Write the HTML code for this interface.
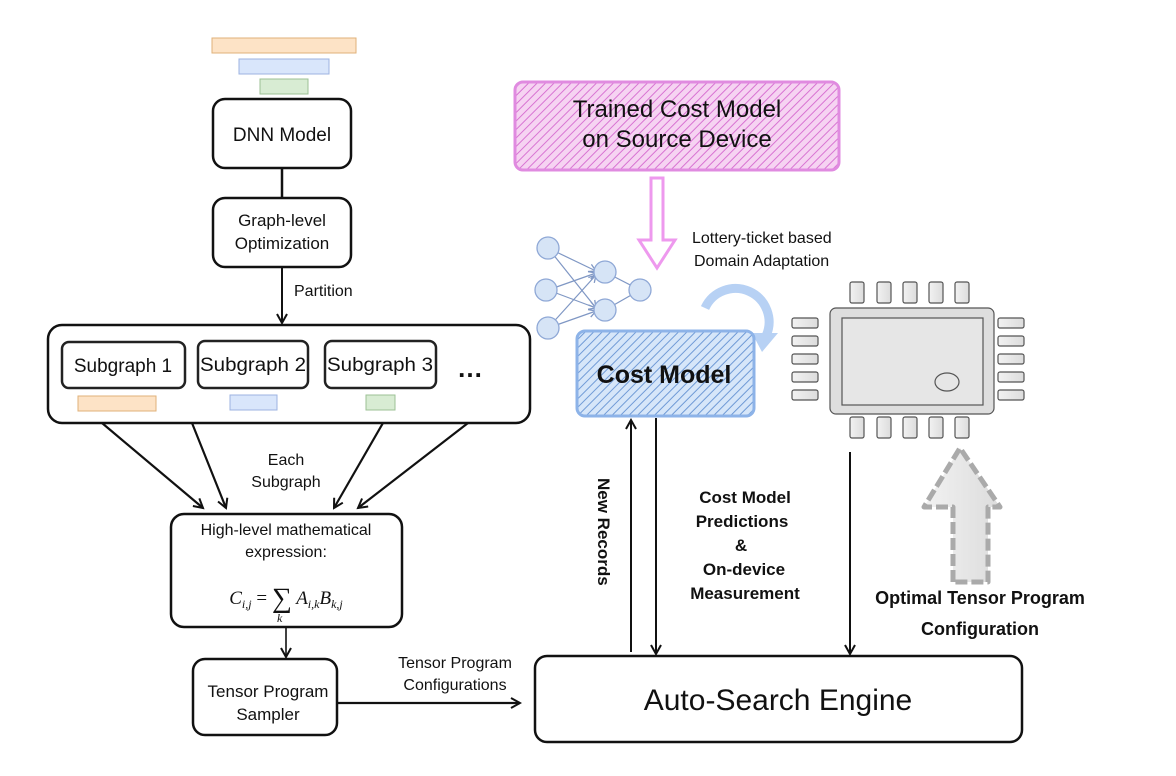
<!DOCTYPE html>
<html><head><meta charset="utf-8"><style>
html,body{margin:0;padding:0;background:#fff;}
svg{display:block;}
text{font-family:"Liberation Sans",sans-serif;fill:#111;}
text.m{font-family:"Liberation Serif",serif;}
</style></head><body>
<svg width="1176" height="776" viewBox="0 0 1176 776" xmlns="http://www.w3.org/2000/svg">
<defs>
<pattern id="hp" width="6" height="6" patternUnits="userSpaceOnUse" patternTransform="rotate(45)">
<rect width="6" height="6" fill="#f6d3f2"/><line x1="0" y1="0" x2="0" y2="6" stroke="#d873d2" stroke-width="2"/></pattern>
<pattern id="hb" width="6" height="6" patternUnits="userSpaceOnUse" patternTransform="rotate(45)">
<rect width="6" height="6" fill="#d6e6f9"/><line x1="0" y1="0" x2="0" y2="6" stroke="#6f9ad6" stroke-width="2"/></pattern>
<marker id="ar" markerWidth="12" markerHeight="12" refX="10" refY="6" orient="auto" markerUnits="userSpaceOnUse">
<path d="M1,1 L10,6 L1,11" fill="none" stroke="#111" stroke-width="2"/></marker>
<marker id="nar" markerWidth="10" markerHeight="10" refX="8" refY="5" orient="auto" markerUnits="userSpaceOnUse">
<path d="M1,1 L8,5 L1,9" fill="none" stroke="#7f97c4" stroke-width="1.3"/></marker>
<linearGradient id="gg" x1="0" y1="0" x2="1" y2="0"><stop offset="0" stop-color="#f2f2f2"/><stop offset="1" stop-color="#dcdcdc"/></linearGradient>
</defs>

<rect x="212" y="38" width="144" height="15" fill="#fde3c6" stroke="#e0b27a"/>
<rect x="239" y="59" width="90" height="15" fill="#d9e6fb" stroke="#9db3e0"/>
<rect x="260" y="79" width="48" height="15" fill="#d8ecd3" stroke="#9cc196"/>

<rect x="213" y="99" width="138" height="69" rx="12" fill="#fff" stroke="#111" stroke-width="2.5"/>
<text x="282" y="141" font-size="19" text-anchor="middle">DNN Model</text>
<line x1="282" y1="168" x2="282" y2="198" stroke="#111" stroke-width="2.5"/>
<rect x="213" y="198" width="138" height="69" rx="12" fill="#fff" stroke="#111" stroke-width="2.5"/>
<text x="282" y="226" font-size="17" text-anchor="middle">Graph-level</text>
<text x="282" y="249" font-size="17" text-anchor="middle">Optimization</text>
<line x1="282" y1="267" x2="282" y2="323" stroke="#111" stroke-width="2" marker-end="url(#ar)"/>
<text x="294" y="296" font-size="16">Partition</text>

<rect x="48" y="325" width="482" height="98" rx="14" fill="#fff" stroke="#111" stroke-width="2.5"/>
<rect x="62" y="342" width="123" height="46" rx="7" fill="#fff" stroke="#222" stroke-width="2.5"/>
<text x="123" y="372" font-size="19" text-anchor="middle">Subgraph 1</text>
<rect x="198" y="341" width="110" height="47" rx="7" fill="#fff" stroke="#222" stroke-width="2.5"/>
<text x="253" y="371" font-size="19" text-anchor="middle" textLength="106" lengthAdjust="spacingAndGlyphs">Subgraph 2</text>
<rect x="325" y="341" width="111" height="47" rx="7" fill="#fff" stroke="#222" stroke-width="2.5"/>
<text x="380" y="371" font-size="19" text-anchor="middle" textLength="106" lengthAdjust="spacingAndGlyphs">Subgraph 3</text>
<text x="470" y="377" font-size="26" text-anchor="middle" font-weight="bold">…</text>
<rect x="78" y="396" width="78" height="15" fill="#fde3c6" stroke="#e0b27a"/>
<rect x="230" y="395" width="47" height="15" fill="#d9e6fb" stroke="#9db3e0"/>
<rect x="366" y="395" width="29" height="15" fill="#d8ecd3" stroke="#9cc196"/>

<line x1="102" y1="423" x2="203" y2="508" stroke="#111" stroke-width="2.2" marker-end="url(#ar)"/>
<line x1="192" y1="423" x2="226" y2="508" stroke="#111" stroke-width="2.2" marker-end="url(#ar)"/>
<line x1="383" y1="423" x2="334" y2="508" stroke="#111" stroke-width="2.2" marker-end="url(#ar)"/>
<line x1="468" y1="423" x2="358" y2="508" stroke="#111" stroke-width="2.2" marker-end="url(#ar)"/>
<text x="286" y="465" font-size="16" text-anchor="middle">Each</text>
<text x="286" y="487" font-size="16" text-anchor="middle">Subgraph</text>

<rect x="171" y="514" width="231" height="113" rx="13" fill="#fff" stroke="#111" stroke-width="2.5"/>
<text x="286" y="535" font-size="16" text-anchor="middle">High-level mathematical</text>
<text x="286" y="557" font-size="16" text-anchor="middle">expression:</text>
<text class="m" x="286" y="604" font-size="19" text-anchor="middle" font-style="italic">C<tspan font-size="12" dy="4">i,j</tspan><tspan dy="-4" font-style="normal"> = </tspan><tspan font-style="normal" font-size="28" dy="3">∑</tspan><tspan dy="-3"> A</tspan><tspan font-size="12" dy="4">i,k</tspan><tspan dy="-4">B</tspan><tspan font-size="12" dy="4">k,j</tspan></text>
<text class="m" x="277" y="622" font-size="12" font-style="italic">k</text>
<line x1="286" y1="628" x2="286" y2="657" stroke="#111" stroke-width="1.6" marker-end="url(#ar)"/>

<rect x="193" y="659" width="144" height="76" rx="12" fill="#fff" stroke="#111" stroke-width="2.5"/>
<text x="268" y="697" font-size="17" text-anchor="middle">Tensor Program</text>
<text x="268" y="720" font-size="17" text-anchor="middle">Sampler</text>
<line x1="337" y1="703" x2="520" y2="703" stroke="#111" stroke-width="2.2" marker-end="url(#ar)"/>
<text x="455" y="668" font-size="16" text-anchor="middle">Tensor Program</text>
<text x="455" y="690" font-size="16" text-anchor="middle">Configurations</text>

<rect x="535" y="656" width="487" height="86" rx="12" fill="#fff" stroke="#111" stroke-width="2.5"/>
<text x="778" y="710" font-size="30" text-anchor="middle">Auto-Search Engine</text>

<rect x="515" y="82" width="324" height="88" rx="8" fill="url(#hp)" stroke="#e08be0" stroke-width="3"/>
<text x="677" y="117" font-size="24" text-anchor="middle">Trained Cost Model</text>
<text x="677" y="147" font-size="24" text-anchor="middle">on Source Device</text>
<path d="M651,178 L663,178 L663,240 L675,240 L657,268 L639,240 L651,240 Z" fill="#fff" stroke="#ee99ee" stroke-width="3"/>
<text x="692" y="243" font-size="16">Lottery-ticket based</text>
<text x="694" y="266" font-size="16">Domain Adaptation</text>

<g stroke="#7f97c4" stroke-width="1.2">
<line x1="548" y1="248" x2="596" y2="271" marker-end="url(#nar)"/>
<line x1="548" y1="248" x2="596" y2="308" marker-end="url(#nar)"/>
<line x1="548" y1="290" x2="596" y2="273" marker-end="url(#nar)"/>
<line x1="548" y1="290" x2="596" y2="308" marker-end="url(#nar)"/>
<line x1="548" y1="328" x2="596" y2="275" marker-end="url(#nar)"/>
<line x1="548" y1="328" x2="596" y2="311" marker-end="url(#nar)"/>
<line x1="605" y1="272" x2="640" y2="290"/>
<line x1="605" y1="310" x2="640" y2="290"/>
</g>
<g fill="#d6e4f6" stroke="#8fa8d6" stroke-width="1.3">
<circle cx="548" cy="248" r="11"/><circle cx="546" cy="290" r="11"/><circle cx="548" cy="328" r="11"/>
<circle cx="605" cy="272" r="11"/><circle cx="605" cy="310" r="11"/><circle cx="640" cy="290" r="11"/>
</g>
<path d="M705,308 A30,30 0 1 1 766,336" fill="none" stroke="#b7d1f4" stroke-width="9"/>
<path d="M752,333 L778,333 L762,352 Z" fill="#b7d1f4"/>

<rect x="577" y="331" width="177" height="85" rx="8" fill="url(#hb)" stroke="#8db3e8" stroke-width="3"/>
<text x="664" y="383" font-size="25" font-weight="bold" text-anchor="middle">Cost Model</text>

<g fill="url(#gg)" stroke="#555" stroke-width="1.2">
<rect x="850" y="282" width="14" height="21" rx="2"/><rect x="877" y="282" width="14" height="21" rx="2"/><rect x="903" y="282" width="14" height="21" rx="2"/><rect x="929" y="282" width="14" height="21" rx="2"/><rect x="955" y="282" width="14" height="21" rx="2"/>
<rect x="850" y="417" width="14" height="21" rx="2"/><rect x="877" y="417" width="14" height="21" rx="2"/><rect x="903" y="417" width="14" height="21" rx="2"/><rect x="929" y="417" width="14" height="21" rx="2"/><rect x="955" y="417" width="14" height="21" rx="2"/>
<rect x="792" y="318" width="26" height="10" rx="2"/><rect x="792" y="336" width="26" height="10" rx="2"/><rect x="792" y="354" width="26" height="10" rx="2"/><rect x="792" y="372" width="26" height="10" rx="2"/><rect x="792" y="390" width="26" height="10" rx="2"/>
<rect x="998" y="318" width="26" height="10" rx="2"/><rect x="998" y="336" width="26" height="10" rx="2"/><rect x="998" y="354" width="26" height="10" rx="2"/><rect x="998" y="372" width="26" height="10" rx="2"/><rect x="998" y="390" width="26" height="10" rx="2"/>
<rect x="830" y="308" width="164" height="106" rx="6" fill="#dedede"/>
<rect x="842" y="318" width="141" height="87" fill="#e6e6e6"/>
<ellipse cx="947" cy="382" rx="12" ry="9" fill="#e6e6e6"/>
</g>

<line x1="631" y1="652" x2="631" y2="420" stroke="#111" stroke-width="2" marker-end="url(#ar)"/>
<line x1="656" y1="418" x2="656" y2="654" stroke="#111" stroke-width="2" marker-end="url(#ar)"/>
<text transform="translate(598,478) rotate(90)" font-size="17" font-weight="bold">New Records</text>
<g font-size="17" font-weight="bold" text-anchor="middle">
<text x="745" y="503">Cost Model</text><text x="742" y="527">Predictions</text><text x="741" y="551">&amp;</text><text x="744" y="575">On-device</text><text x="745" y="599">Measurement</text>
</g>
<line x1="850" y1="452" x2="850" y2="654" stroke="#111" stroke-width="2" marker-end="url(#ar)"/>
<path d="M953,582 L953,507 L924,507 L960,448 L1000,507 L988,507 L988,582 Z" fill="url(#gg)" stroke="#aaa" stroke-width="5" stroke-dasharray="12,4" stroke-linejoin="round"/>
<g font-size="18" font-weight="bold" text-anchor="middle">
<text x="980" y="604">Optimal Tensor Program</text><text x="980" y="635">Configuration</text>
</g>
</svg>
</body></html>
